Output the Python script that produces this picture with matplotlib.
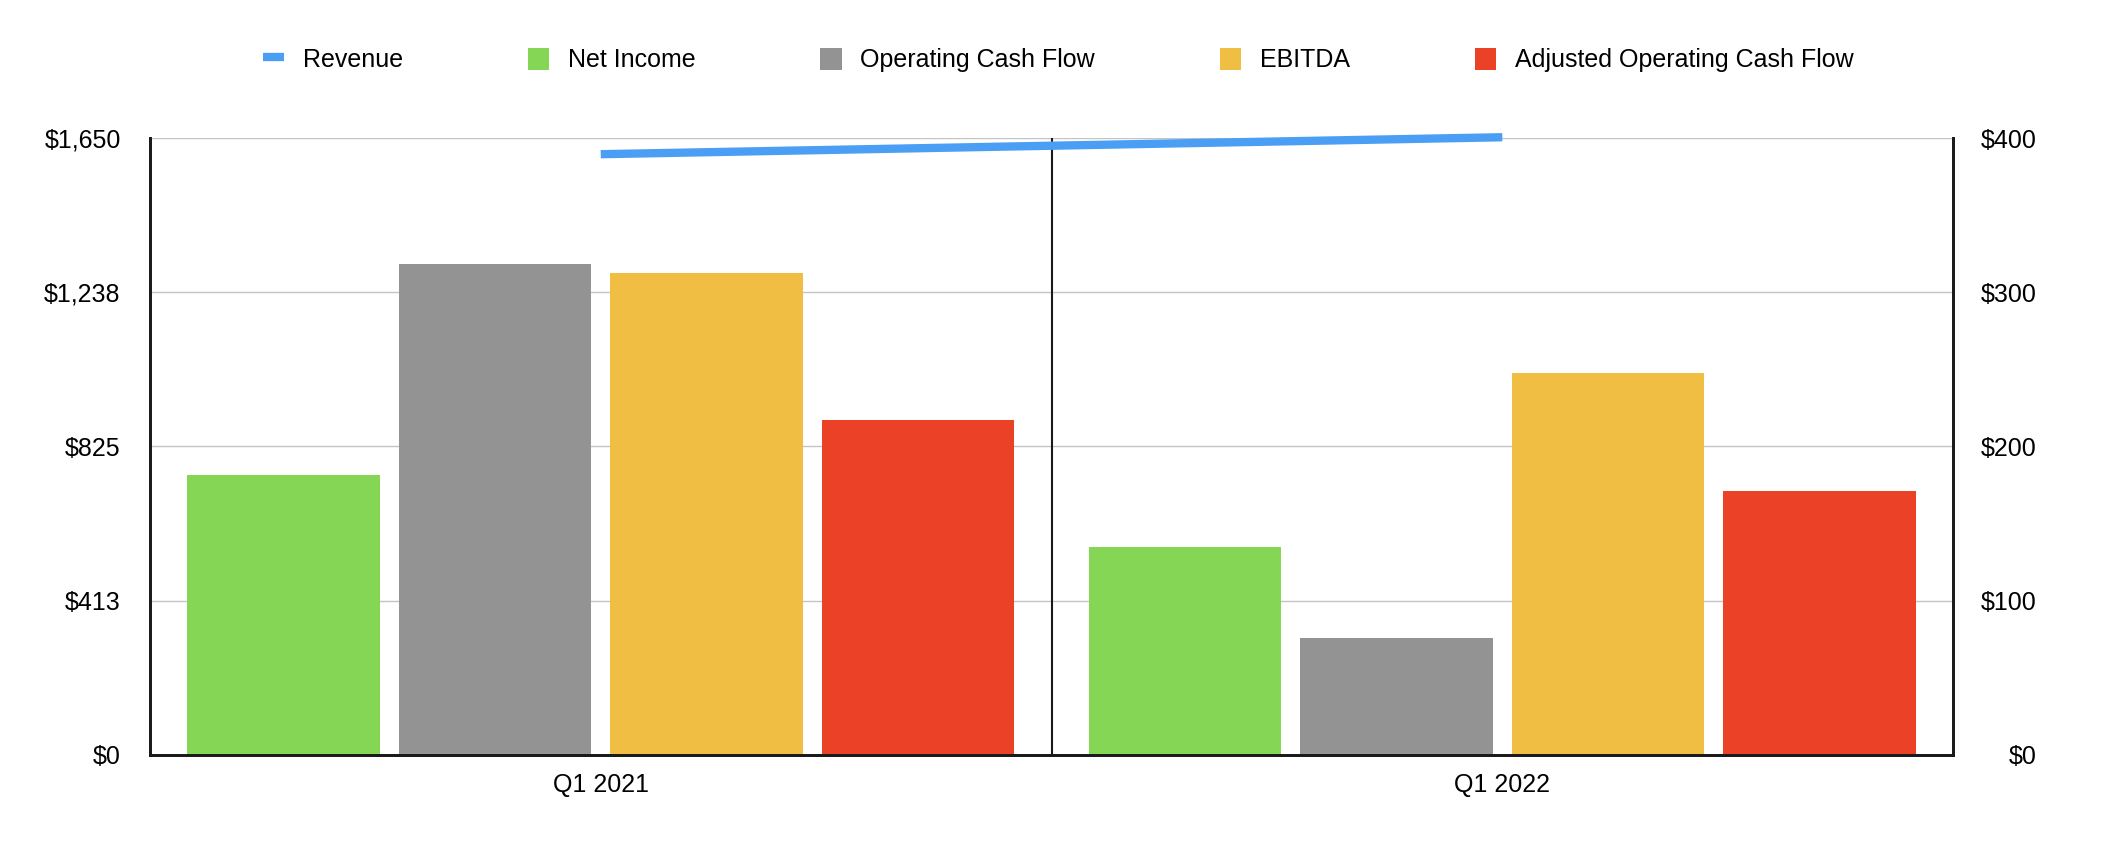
import matplotlib.pyplot as plt
import numpy as np

plt.rcParams['font.family'] = ['Liberation Sans', 'DejaVu Sans']

# Chart data (values in $ millions)
quarters = ['Q1 2021', 'Q1 2022']
net_income = [748, 557]
operating_cf = [1312, 313]
ebitda = [1290, 1021]
adjusted_ocf = [895, 705]
revenue = [389.5, 400.5]

left_ticks = [0, 412.5, 825, 1237.5, 1650]
left_labels = ['$0', '$413', '$825', '$1,238', '$1,650']
right_ticks = [0, 100, 200, 300, 400]
right_labels = ['$0', '$100', '$200', '$300', '$400']

bar_series = [
    ('Net Income', net_income, '#84D654'),
    ('Operating Cash Flow', operating_cf, '#939393'),
    ('EBITDA', ebitda, '#EFBE42'),
    ('Adjusted Operating Cash Flow', adjusted_ocf, '#EB4126'),
]

fs = 18

fig = plt.figure(figsize=(21.06, 8.68), dpi=100)
ax = fig.add_axes([0.0712, 0.1302, 0.8562, 0.7108])
ax2 = ax.twinx()

x = np.arange(len(quarters))
step = 0.2347
width = 0.2137

handles = []
for i, (name, values, color) in enumerate(bar_series):
    offset = (i - 1.5) * step
    b = ax.bar(x + offset, values, width, color=color, label=name, zorder=2)
    handles.append(b)

line, = ax2.plot(x, revenue, color='#4A9FF5', linewidth=6, label='Revenue',
                 solid_capstyle='butt', clip_on=False, zorder=3)

ax.set_xlim(-0.5, 1.5)
ax.set_ylim(0, 1650)
ax2.set_ylim(0, 400)

ax.set_xticks(x)
ax.set_xticklabels(quarters, fontsize=fs)
ax.tick_params(axis='x', length=0, pad=13)

ax.set_yticks(left_ticks)
ax.set_yticklabels(left_labels, fontsize=fs)
ax.tick_params(axis='y', length=0, pad=21)
ax2.set_yticks(right_ticks)
ax2.set_yticklabels(right_labels, fontsize=fs, ha='right')
ax2.tick_params(axis='y', length=0, pad=60)

ax.yaxis.grid(True, color='#C4C4C4', linewidth=1, zorder=0)
ax.set_axisbelow(True)

# category divider
ax.axvline(0.5, color='#1a1a1a', linewidth=1.5, zorder=1)

for a in (ax, ax2):
    a.spines['top'].set_visible(False)
    for side in ('left', 'right', 'bottom'):
        a.spines[side].set_color('#1a1a1a')
        a.spines[side].set_linewidth(2)

fig.legend([line] + handles, ['Revenue'] + [s[0] for s in bar_series],
           loc='center', bbox_to_anchor=(0.5024, 0.931), ncol=5, frameon=False,
           fontsize=fs, handlelength=0.85, handleheight=1.0, handletextpad=0.75,
           columnspacing=5.0)

fig.savefig('out.png', dpi=100)
